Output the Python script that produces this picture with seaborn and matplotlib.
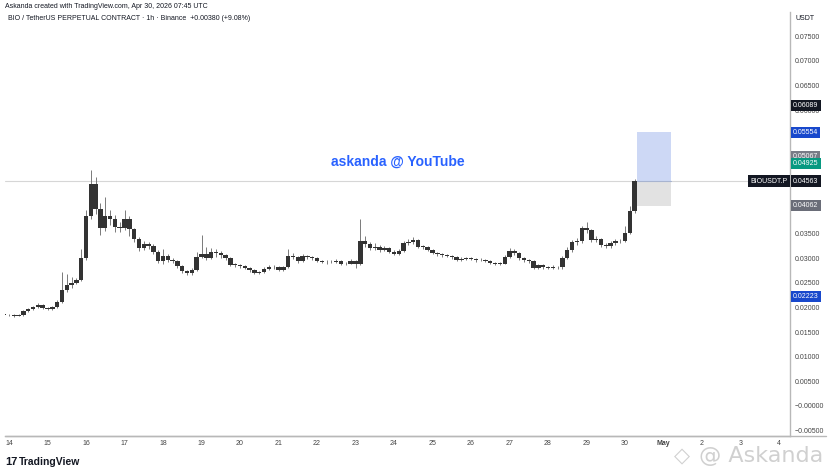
import numpy as np
import pandas as pd
import matplotlib
matplotlib.use("Agg")
import matplotlib.pyplot as plt
import matplotlib.dates as mdates
import seaborn as sns

# 3h candles of BIOUSDT.P
closes = [
    0.0185, 0.0184, 0.0183, 0.0184, 0.0192, 0.0196, 0.0200, 0.0205, 0.0198, 0.0196,
    0.0200, 0.0210, 0.0235, 0.0245, 0.0250, 0.0255, 0.0300, 0.0385, 0.0450, 0.0400,
    0.0361, 0.0385, 0.0380, 0.0364, 0.0362, 0.0380, 0.0358, 0.0338, 0.0320, 0.0328,
    0.0325, 0.0313, 0.0295, 0.0305, 0.0296, 0.0295, 0.0284, 0.0273, 0.0269, 0.0275,
    0.0303, 0.0308, 0.0300, 0.0312, 0.0310, 0.0306, 0.0300, 0.0286, 0.0286, 0.0283,
    0.0280, 0.0275, 0.0269, 0.0271, 0.0278, 0.0282, 0.0281, 0.0276, 0.0281, 0.0305,
    0.0303, 0.0294, 0.0304, 0.0303, 0.0300, 0.0295, 0.0293, 0.0292, 0.0293, 0.0295,
    0.0288, 0.0289, 0.0295, 0.0288, 0.0335, 0.0328, 0.0320, 0.0323, 0.0317, 0.0320,
    0.0313, 0.0309, 0.0314, 0.0330, 0.0333, 0.0336, 0.0323, 0.0323, 0.0317, 0.0311,
    0.0308, 0.0306, 0.0305, 0.0302, 0.0297, 0.0299, 0.0299, 0.0299, 0.0296, 0.0297,
    0.0295, 0.0291, 0.0289, 0.0289, 0.0302, 0.0315, 0.0311, 0.0300, 0.0296, 0.0294,
    0.0280, 0.0286, 0.0281, 0.0280, 0.0282, 0.0281, 0.0300, 0.0317, 0.0332, 0.0334,
    0.0362, 0.0357, 0.0337, 0.0338, 0.0326, 0.0324, 0.0330, 0.0334, 0.0334, 0.0350,
    0.0395, 0.04563,
]
highs = [
    0.0188, 0.0187, 0.0186, 0.0186, 0.0194, 0.0199, 0.0203, 0.0209, 0.0207, 0.0200,
    0.0203, 0.0214, 0.0272, 0.0268, 0.0262, 0.0260, 0.0318, 0.0398, 0.0478, 0.0465,
    0.0412, 0.0424, 0.0398, 0.0388, 0.0374, 0.0397, 0.0385, 0.0362, 0.0342, 0.0335,
    0.0333, 0.0328, 0.0316, 0.0318, 0.0308, 0.0300, 0.0297, 0.0286, 0.0276, 0.0280,
    0.0312, 0.0347, 0.0322, 0.0320, 0.0318, 0.0314, 0.0309, 0.0302, 0.0290, 0.0289,
    0.0286, 0.0282, 0.0277, 0.0274, 0.0281, 0.0286, 0.0285, 0.0283, 0.0284, 0.0318,
    0.0310, 0.0305, 0.0308, 0.0307, 0.0305, 0.0302, 0.0297, 0.0296, 0.0296, 0.0298,
    0.0297, 0.0292, 0.0298, 0.0297, 0.0380, 0.0345, 0.0332, 0.0330, 0.0327, 0.0325,
    0.0322, 0.0316, 0.0318, 0.0334, 0.0338, 0.0342, 0.0338, 0.0327, 0.0325, 0.0319,
    0.0313, 0.0311, 0.0309, 0.0307, 0.0304, 0.0302, 0.0302, 0.0302, 0.0301, 0.0300,
    0.0299, 0.0297, 0.0293, 0.0292, 0.0306, 0.0320, 0.0318, 0.0313, 0.0302, 0.0298,
    0.0296, 0.0289, 0.0288, 0.0284, 0.0285, 0.0284, 0.0305, 0.0322, 0.0337, 0.0340,
    0.0366, 0.0373, 0.0360, 0.0344, 0.0340, 0.0330, 0.0334, 0.0338, 0.0338, 0.0366,
    0.0405, 0.0460,
]
lows = [
    0.0183, 0.0182, 0.0181, 0.0182, 0.0183, 0.0190, 0.0194, 0.0198, 0.0196, 0.0194,
    0.0195, 0.0199, 0.0208, 0.0232, 0.0240, 0.0247, 0.0253, 0.0296, 0.0380, 0.0390,
    0.0347, 0.0355, 0.0368, 0.0352, 0.0352, 0.0356, 0.0345, 0.0332, 0.0315, 0.0316,
    0.0318, 0.0308, 0.0290, 0.0288, 0.0292, 0.0290, 0.0280, 0.0270, 0.0265, 0.0266,
    0.0273, 0.0300, 0.0296, 0.0298, 0.0303, 0.0300, 0.0296, 0.0283, 0.0282, 0.0280,
    0.0277, 0.0272, 0.0267, 0.0267, 0.0270, 0.0276, 0.0278, 0.0273, 0.0274, 0.0280,
    0.0298, 0.0290, 0.0292, 0.0299, 0.0297, 0.0292, 0.0290, 0.0289, 0.0290, 0.0291,
    0.0285, 0.0286, 0.0287, 0.0279, 0.0286, 0.0322, 0.0316, 0.0317, 0.0313, 0.0314,
    0.0310, 0.0306, 0.0307, 0.0312, 0.0326, 0.0328, 0.0320, 0.0319, 0.0314, 0.0308,
    0.0305, 0.0303, 0.0302, 0.0299, 0.0295, 0.0295, 0.0296, 0.0296, 0.0293, 0.0294,
    0.0292, 0.0288, 0.0286, 0.0286, 0.0287, 0.0300, 0.0306, 0.0297, 0.0293, 0.0291,
    0.0277, 0.0278, 0.0278, 0.0277, 0.0278, 0.0278, 0.0278, 0.0298, 0.0313, 0.0326,
    0.0331, 0.0350, 0.0333, 0.0333, 0.0322, 0.0320, 0.0321, 0.0327, 0.0330, 0.0332,
    0.0348, 0.0392,
]
first_open = 0.0186

# long position tool
entry = 0.04563
target = 0.05554
stop = 0.04062

# price scale labels (the ones hidden under tags are left blank)
price_ticks = [0.075, 0.07, 0.065, 0.06, 0.035, 0.03,
               0.025, 0.02, 0.015, 0.01, 0.005, 0.0, -0.005]
price_labels = ["0.07500", "0.07000", "0.06500", "0.06000", "0.03500", "0.03000",
                "0.02500", "0.02000", "0.01500", "0.01000", "0.00500",
                "\u22120.00000", "\u22120.00500"]

# coloured tags on the price scale
tag_values = [0.06089, 0.05554, 0.05067, 0.04925, 0.04563, 0.04062, 0.02223]
tag_colors = ["#131722", "#1848cc", "#787b86", "#089981", "#131722", "#6a6d78", "#1848cc"]

day_labels = ["14", "15", "16", "17", "18", "19", "20", "21", "22", "23", "24",
              "25", "26", "27", "28", "29", "30", "May", "2", "3", "4"]

sns.set_theme(style="white")
plt.rcParams["font.family"] = ["Liberation Sans", "DejaVu Sans"]

times = pd.date_range("2026-04-13 21:00", periods=len(closes), freq="3h")
df = pd.DataFrame({"time": times, "close": closes, "high": highs, "low": lows})
df["open"] = [first_open] + closes[:-1]
df["x"] = mdates.date2num(df["time"])

fig = plt.figure(figsize=(8.29, 4.75), dpi=100)
W, H = 829, 475
ax = fig.add_axes([5 / W, 1 - 436 / H, 785 / W, 424 / H])

# wicks and bodies
ax.vlines(df["x"], df["low"], df["high"], color="#7a7a7a", lw=0.7, zorder=2)
body_lo = np.minimum(df["open"], df["close"])
body_h = np.maximum(np.abs(df["close"] - df["open"]), 0.0001)
ax.bar(df["x"], body_h, bottom=body_lo, width=0.115, color="#333333",
       edgecolor="none", zorder=3)

# last price line
ax.axhline(entry, color="#d6d6d6", lw=0.8, zorder=1)

# long position box
x0 = mdates.date2num(pd.Timestamp("2026-04-30 07:30"))
x1 = mdates.date2num(pd.Timestamp("2026-05-01 04:30"))
ax.fill_between([x0, x1], entry, target, color="#cdd8f5", lw=0, zorder=1)
ax.fill_between([x0, x1], stop, entry, color="#e2e2e2", lw=0, zorder=1)
ax.plot([x0, x1], [entry, entry], color="#a8b4d0", lw=0.8, zorder=1)

ax.text(0.5, 0.0495, "askanda @ YouTube", transform=ax.get_yaxis_transform(),
        ha="center", va="center", fontsize=10, fontweight="bold", color="#2962ff")

ax.set_xlim(mdates.date2num(pd.Timestamp("2026-04-13 21:30")),
            mdates.date2num(pd.Timestamp("2026-05-04 06:50")))
ax.set_ylim(-0.00609, 0.07992)

tick_days = pd.date_range("2026-04-14", periods=len(day_labels), freq="D")
ax.set_xticks(mdates.date2num(tick_days))
ax.set_xticklabels(day_labels)
for lab in ax.get_xticklabels():
    if lab.get_text() == "May":
        lab.set_fontweight("bold")
ax.tick_params(axis="x", length=0, pad=3, labelsize=5, labelcolor="#444444")

ax.yaxis.tick_right()
ax.set_yticks(price_ticks)
ax.set_yticklabels(price_labels)
ax.tick_params(axis="y", length=0, pad=3.5, labelsize=5, labelcolor="#444444")

for s in ["top", "left"]:
    ax.spines[s].set_visible(False)
for s in ["right", "bottom"]:
    ax.spines[s].set_color("#b8b8b8")
    ax.spines[s].set_linewidth(1.0)
ax.grid(False)

ytr = ax.get_yaxis_transform()
for v, c in zip(tag_values, tag_colors):
    ax.text(1.004, v, f"{v:.5f}", transform=ytr, ha="left", va="center",
            fontsize=5, color="white", zorder=6, clip_on=False,
            bbox=dict(boxstyle="square,pad=0.3", fc=c, ec="none"))
ax.text(0.997, entry, "BIOUSDT.P", transform=ytr, ha="right", va="center",
        fontsize=5, color="white", zorder=6, clip_on=False,
        bbox=dict(boxstyle="square,pad=0.3", fc="#131722", ec="none"))

# bottom axis line extends under the price scale
fig.add_artist(plt.Line2D([5 / W, 826 / W], [1 - 436 / H, 1 - 436 / H],
                          color="#b8b8b8", lw=1.0))

# header and footer texts
fig.text(5 / W, 1 - 7 / H, "Askanda created with TradingView.com, Apr 30, 2026 07:45 UTC",
         fontsize=5, color="#131722", va="center")
fig.text(8 / W, 1 - 19 / H,
         "BIO / TetherUS PERPETUAL CONTRACT \u00b7 1h \u00b7 Binance  +0.00380 (+9.08%)",
         fontsize=5, color="#131722", va="center")
fig.text(796 / W, 1 - 19 / H, "USDT", fontsize=5, color="#131722", va="center")
fig.text(5 / W, 1 - 462 / H, "17", fontsize=8, fontweight="heavy", color="#131722",
         va="center")
fig.text(19 / W, 1 - 462 / H, "TradingView", fontsize=7.5, fontweight="bold",
         color="#131722", va="center")

# watermark
fig.text(682 / W, 1 - 456 / H, "\u25c7", fontsize=15, color="#d0d0d0",
         ha="center", va="center", family=["DejaVu Sans"])
fig.text(823 / W, 1 - 456 / H, "@ Askanda", fontsize=16, color="#d0d0d0",
         ha="right", va="center", family=["DejaVu Sans"])

fig.savefig("out.png", dpi=100, facecolor="white")
